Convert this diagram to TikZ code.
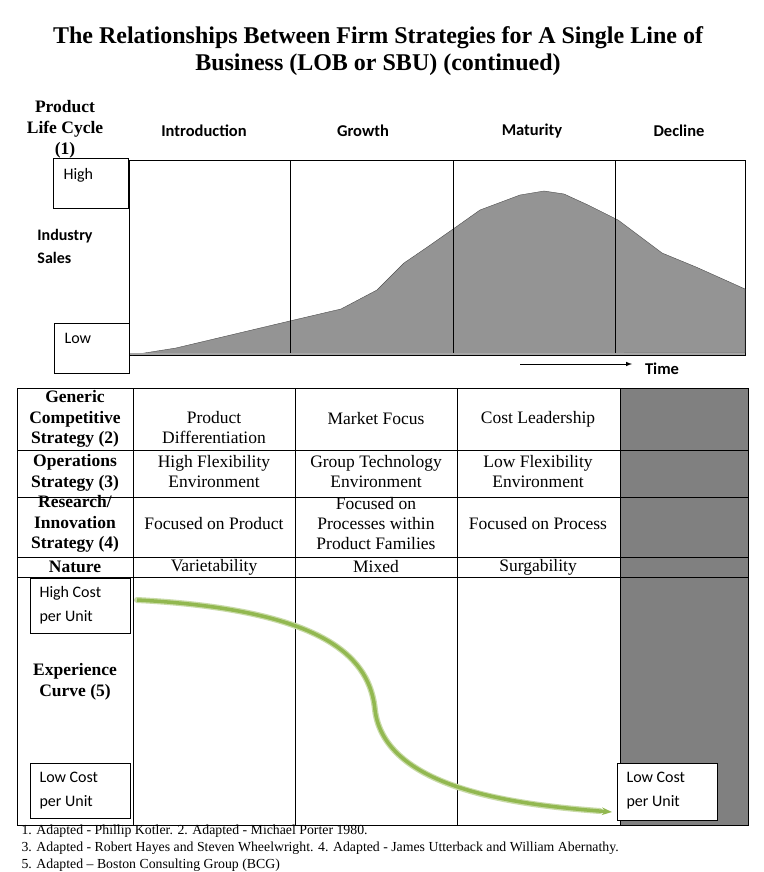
\documentclass[tikz,border=0pt]{standalone}
\usepackage{fontspec}
\usetikzlibrary{arrows.meta}
\setmainfont{Liberation Serif}
\newfontfamily\calfont{Carlito}
\definecolor{curvegreen}{RGB}{146,184,80}
\begin{document}
\begin{tikzpicture}[x=1pt,y=-1pt,
  lbl/.style={font=\calfont\fontsize{16.5}{18}\selectfont\bfseries},
  box/.style={draw=black,fill=white,line width=0.8pt},
  boxtxt/.style={font=\calfont\fontsize{16}{24}\selectfont,align=left,anchor=north west},
  cell/.style={font=\fontsize{17.5}{20}\selectfont,align=center},
  head/.style={font=\fontsize{17.5}{20.5}\selectfont\bfseries,align=center},
  foot/.style={font=\fontsize{13.8}{15}\selectfont,anchor=west}]
\useasboundingbox[fill=white] (0,0) rectangle (763,872);
\node[font=\fontsize{24}{27}\selectfont\bfseries,align=center] (title) at (378,51) {The Relationships Between Firm Strategies for A Single Line of\\Business (LOB or SBU) (continued)};
% chart
\draw[fill=white] (129,160) rectangle (745,355);
\fill[black!42,draw=black!70] (130,354) -- (132,355) -- (176,348) -- (294,320) -- (341,309) -- (377,290) -- (404,263) -- (426,248) -- (456,227) -- (480,210) -- (520,195) -- (544,191) -- (564,194) -- (588,205) -- (618,220) -- (662,253) -- (696,267) -- (725,280) -- (745,289) -- (745,353) -- cycle;
\foreach \x in {290,453,615} \draw (\x,160) -- (\x,353);
\draw[gray!70,line width=2pt] (129,354) -- (745,354);
\node[box,minimum width=75,minimum height=50,anchor=north west] (hi) at (53,158) {};
\node[boxtxt] at (60,165) {High};
\node[box,minimum width=75,minimum height=50,anchor=north west] (lo) at (54,323) {};
\node[boxtxt] at (61,330) {Low};
\node[head,font=\fontsize{17.5}{21}\selectfont\bfseries] (plc) at (65,129) {Product\\Life Cycle\\(1)};
\node[lbl,align=left,font=\calfont\fontsize{16}{23}\selectfont\bfseries] (is) at (65,246) {Industry\\Sales};
\node[lbl] (s1) at (204,131) {Introduction};
\node[lbl] (s2) at (363,131) {Growth};
\node[lbl] (s3) at (532,131) {Maturity};
\node[lbl] (s4) at (679,131) {Decline};
\coordinate (ta) at (520,364); \coordinate (tb) at (632,364);
\draw[-latex,line width=1pt] (ta) -- (tb);
\node[lbl] (time) at (662,369) {Time};
% table
\fill[black!50] (620,388) rectangle (748,825);
\draw (17,388) rectangle (748,825);
\foreach \x in {133,295,457,620} \draw (\x,388) -- (\x,825);
\foreach \y in {450,497,557,577} \draw (17,\y) -- (748,\y);
\node[head] at (75,419) {Generic\\Competitive\\Strategy (2)};
\node[cell] at (214,428) {Product\\Differentiation};
\node[cell] at (376,419) {Market Focus};
\node[cell] at (538,419) {Cost Leadership};
\node[head] at (75,473) {Operations\\Strategy (3)};
\node[cell] at (214,472) {High Flexibility\\Environment};
\node[cell] at (376,472) {Group Technology\\Environment};
\node[cell] at (538,472) {Low Flexibility\\Environment};
\node[head] at (75,524) {Research/\\Innovation\\Strategy (4)};
\node[cell] at (214,524) {Focused on Product};
\node[cell] at (376,524) {Focused on\\Processes within\\Product Families};
\node[cell] at (538,524) {Focused on Process};
\node[head] at (75,567) {Nature};
\node[cell] at (214,567) {Varietability};
\node[cell] at (376,567) {Mixed};
\node[cell] at (538,567) {Surgability};
\node[head] at (75,682) {Experience\\Curve (5)};
\node[box,minimum width=100,minimum height=55,anchor=north west] (hc) at (30,578) {};
\node[boxtxt] at (36,583) {High Cost\\per Unit};
\node[box,minimum width=100,minimum height=55,anchor=north west] (lc) at (30,763) {};
\node[boxtxt] at (36,769) {Low Cost\\per Unit};
\node[box,minimum width=100,minimum height=57,anchor=north west] (lc2) at (617,763) {};
\node[boxtxt] at (623,769) {Low Cost\\per Unit};
\coordinate (c0) at (137,600); \coordinate (c1) at (612,812);
\draw[color=curvegreen!50,line width=6pt,line cap=round] (c0) .. controls (330,610) and (370,660) .. (375,710) .. controls (385,790) and (520,805) .. (600,811);
\draw[color=curvegreen,line width=3.5pt,-{Stealth[length=10pt]}] (c0) .. controls (330,610) and (370,660) .. (375,710) .. controls (385,790) and (520,805) .. (c1);
\node[foot] at (18,831) {1. Adapted - Phillip Kotler. 2. Adapted - Michael Porter 1980.};
\node[foot] at (18,848) {3. Adapted - Robert Hayes and Steven Wheelwright. 4. Adapted - James Utterback and William Abernathy.};
\node[foot] at (18,865) {5. Adapted -- Boston Consulting Group (BCG)};
\end{tikzpicture}
\end{document}
